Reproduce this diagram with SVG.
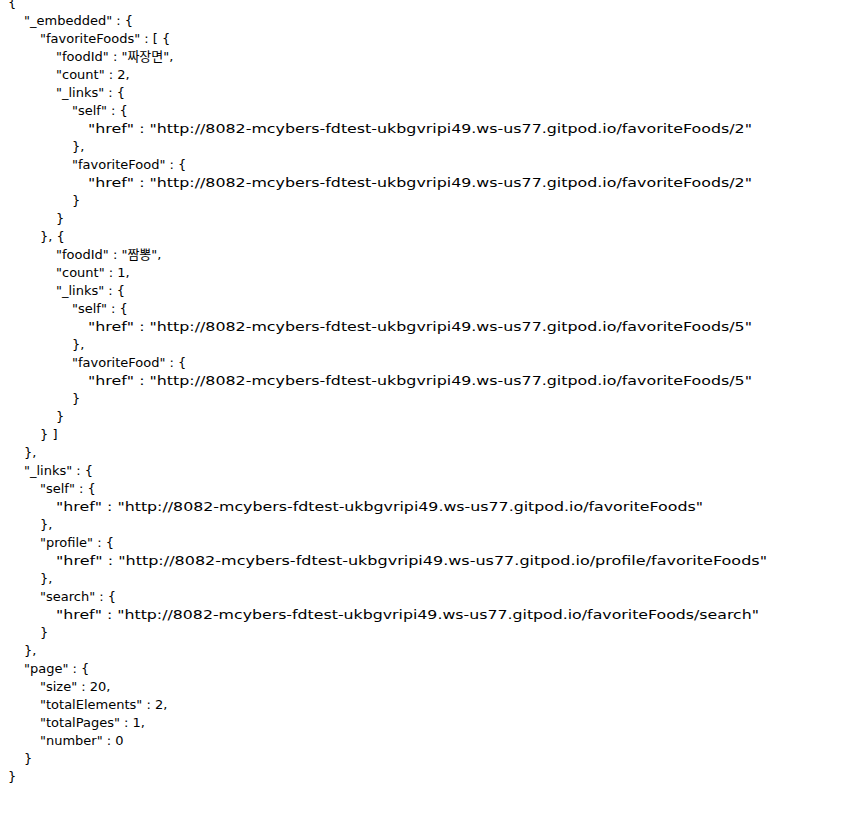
<svg xmlns="http://www.w3.org/2000/svg" width="867" height="825" viewBox="0 0 867 825">
<style>
text{font-family:"DejaVu Sans","Noto Sans CJK KR",sans-serif;font-size:13px;fill:#000;}
</style>
<rect width="867" height="825" fill="#fff"/>
<g id="json">
<text x="8" y="7">{</text>
<text x="24" y="25">"_embedded" : {</text>
<text x="40" y="43">"favoriteFoods" : [ {</text>
<text x="56" y="61">"foodId" : "짜장면",</text>
<text x="56" y="79">"count" : 2,</text>
<text x="56" y="97">"_links" : {</text>
<text x="72" y="115">"self" : {</text>
<text x="88" y="133" textLength="664" lengthAdjust="spacingAndGlyphs">"href" : "http://8082-mcybers-fdtest-ukbgvripi49.ws-us77.gitpod.io/favoriteFoods/2"</text>
<text x="72" y="151">},</text>
<text x="72" y="169">"favoriteFood" : {</text>
<text x="88" y="187" textLength="664" lengthAdjust="spacingAndGlyphs">"href" : "http://8082-mcybers-fdtest-ukbgvripi49.ws-us77.gitpod.io/favoriteFoods/2"</text>
<text x="72" y="205">}</text>
<text x="56" y="223">}</text>
<text x="40" y="241">}, {</text>
<text x="56" y="259">"foodId" : "짬뽕",</text>
<text x="56" y="277">"count" : 1,</text>
<text x="56" y="295">"_links" : {</text>
<text x="72" y="313">"self" : {</text>
<text x="88" y="331" textLength="664" lengthAdjust="spacingAndGlyphs">"href" : "http://8082-mcybers-fdtest-ukbgvripi49.ws-us77.gitpod.io/favoriteFoods/5"</text>
<text x="72" y="349">},</text>
<text x="72" y="367">"favoriteFood" : {</text>
<text x="88" y="385" textLength="664" lengthAdjust="spacingAndGlyphs">"href" : "http://8082-mcybers-fdtest-ukbgvripi49.ws-us77.gitpod.io/favoriteFoods/5"</text>
<text x="72" y="403">}</text>
<text x="56" y="421">}</text>
<text x="40" y="439">} ]</text>
<text x="24" y="457">},</text>
<text x="24" y="475">"_links" : {</text>
<text x="40" y="493">"self" : {</text>
<text x="56" y="511" textLength="647" lengthAdjust="spacingAndGlyphs">"href" : "http://8082-mcybers-fdtest-ukbgvripi49.ws-us77.gitpod.io/favoriteFoods"</text>
<text x="40" y="529">},</text>
<text x="40" y="547">"profile" : {</text>
<text x="56" y="565" textLength="711" lengthAdjust="spacingAndGlyphs">"href" : "http://8082-mcybers-fdtest-ukbgvripi49.ws-us77.gitpod.io/profile/favoriteFoods"</text>
<text x="40" y="583">},</text>
<text x="40" y="601">"search" : {</text>
<text x="56" y="619" textLength="703" lengthAdjust="spacingAndGlyphs">"href" : "http://8082-mcybers-fdtest-ukbgvripi49.ws-us77.gitpod.io/favoriteFoods/search"</text>
<text x="40" y="637">}</text>
<text x="24" y="655">},</text>
<text x="24" y="673">"page" : {</text>
<text x="40" y="691">"size" : 20,</text>
<text x="40" y="709">"totalElements" : 2,</text>
<text x="40" y="727">"totalPages" : 1,</text>
<text x="40" y="745">"number" : 0</text>
<text x="24" y="763">}</text>
<text x="8" y="781">}</text>
</g>
</svg>
